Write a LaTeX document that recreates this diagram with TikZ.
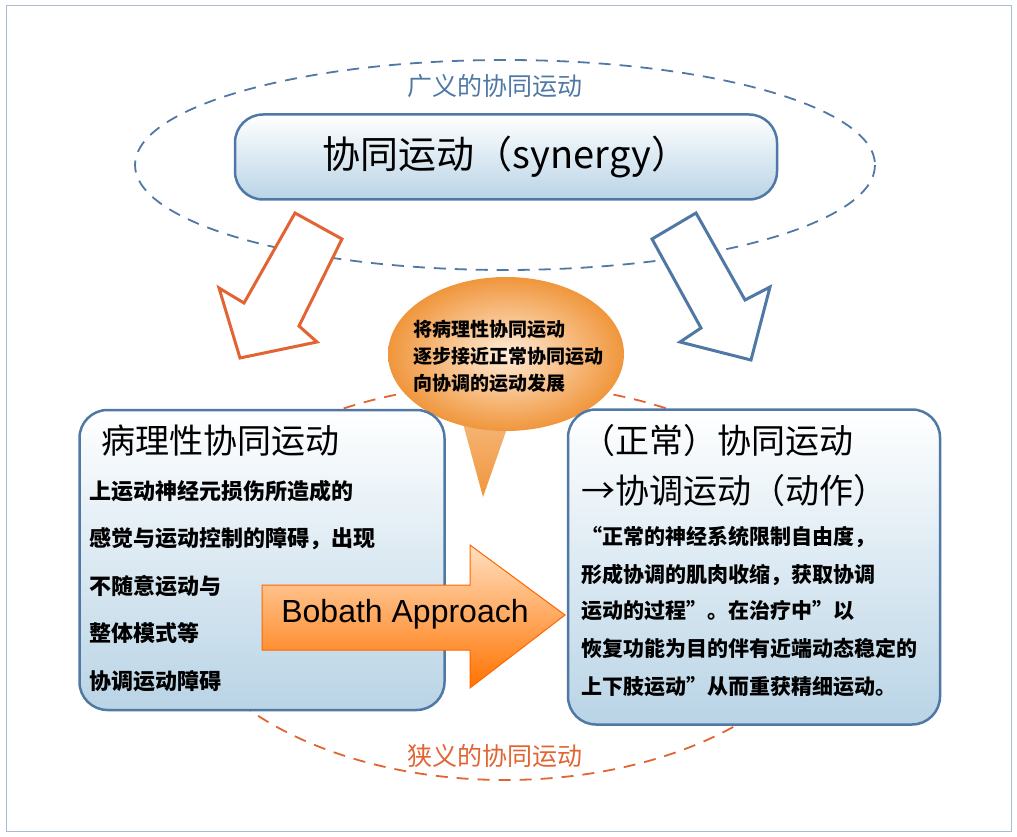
\documentclass[tikz,border=0pt]{standalone}
\usepackage{fontspec}
\setmainfont{Noto Sans CJK SC}
\usetikzlibrary{shapes.geometric}
\definecolor{bl}{RGB}{80,120,165}
\definecolor{bfill}{RGB}{185,212,230}
\definecolor{org}{RGB}{225,100,50}
\definecolor{ob}{RGB}{240,150,60}
\begin{document}
\begin{tikzpicture}[x=1pt,y=-1pt,
  bbox/.style={draw=bl,line width=2.5pt,rounded corners=28pt,top color=white,bottom color=bfill},
  ttl/.style={anchor=west,font=\fontsize{34}{38}\selectfont},
  body/.style={anchor=west,font=\bfseries\fontsize{22}{26}\selectfont},
  rbody/.style={anchor=west,font=\bfseries\fontsize{21}{24}\selectfont},
  dsh/.style={dashed,dash pattern=on 12pt off 9pt,line width=1.8pt}]
\useasboundingbox (0,0) rectangle (1017,837);
\draw[bl!50,line width=1pt] (6,6) rectangle (1011,831);
% ellipses
\draw[dsh,draw=bl] (505,165) ellipse [x radius=370,y radius=105];
\draw[dsh,draw=org] (505,582) ellipse [x radius=335,y radius=198];
\node (lab1) at (495,86) [text=bl,font=\fontsize{25}{28}\selectfont] {广义的协同运动};
\node (lab2) at (495,756) [text=org,font=\fontsize{25}{28}\selectfont] {狭义的协同运动};
% top box
\node (top) [bbox,minimum width=542pt,minimum height=85pt] at (506,157) {};
\node at (top) [font=\fontsize{38}{42}\selectfont] {协同运动（synergy）};
% hollow arrows
\draw[draw=org,line width=3pt,fill=white,line join=miter] (295,213)--(342,239)--(299,326)--(317,342)--(240,358)--(219,288)--(244,303)--cycle;
\draw[draw=bl,line width=3pt,fill=white,line join=miter] (696,213)--(652,239)--(701,328)--(680,342)--(751,360)--(770,287)--(745,300)--cycle;
% bubble
\shade[top color=ob!70,bottom color=ob,draw=none]
  (462,420)--(483,497)--(510,420)--cycle;
\shade[inner color=orange!15,outer color=ob] (506,354) ellipse [x radius=118,y radius=77];
\node (bub) at (508,356) [align=left,font=\bfseries\fontsize{19}{27}\selectfont] {将病理性协同运动\\逐步接近正常协同运动\\向协调的运动发展};
% left box
\node (L) [bbox,minimum width=365pt,minimum height=300pt] at (262,560) {};
\node[ttl] at (98,441) {病理性协同运动};
\node[body] at (86,491) {上运动神经元损伤所造成的};
\node[body] at (86,539) {感觉与运动控制的障碍，出现};
\node[body] at (86,586) {不随意运动与};
\node[body] at (86,633) {整体模式等};
\node[body] at (86,681) {协调运动障碍};
% right box
\node (R) [bbox,minimum width=372pt,minimum height=315pt] at (754,567) {};
\node[ttl] at (578,441) {（正常）协同运动};
\node[ttl] at (578,491) {→协调运动（动作）};
\node[rbody] at (578,537) {“正常的神经系统限制自由度，};
\node[rbody] at (578,575) {形成协调的肌肉收缩，获取协调};
\node[rbody] at (578,611) {运动的过程”。在治疗中”以};
\node[rbody] at (578,648) {恢复功能为目的伴有近端动态稳定的};
\node[rbody] at (578,687) {上下肢运动”从而重获精细运动。};
% big arrow
\shade[top color=orange!25,bottom color=orange!90!red,draw=orange!80!red,line width=1pt]
 (262,585)--(470,585)--(470,545)--(565,615)--(470,688)--(470,650)--(262,650)--cycle;
\node (bob) at (405,614) [font=\fontsize{32}{34}\selectfont] {\fontspec{Liberation Sans}Bobath Approach};
\end{tikzpicture}
\end{document}
